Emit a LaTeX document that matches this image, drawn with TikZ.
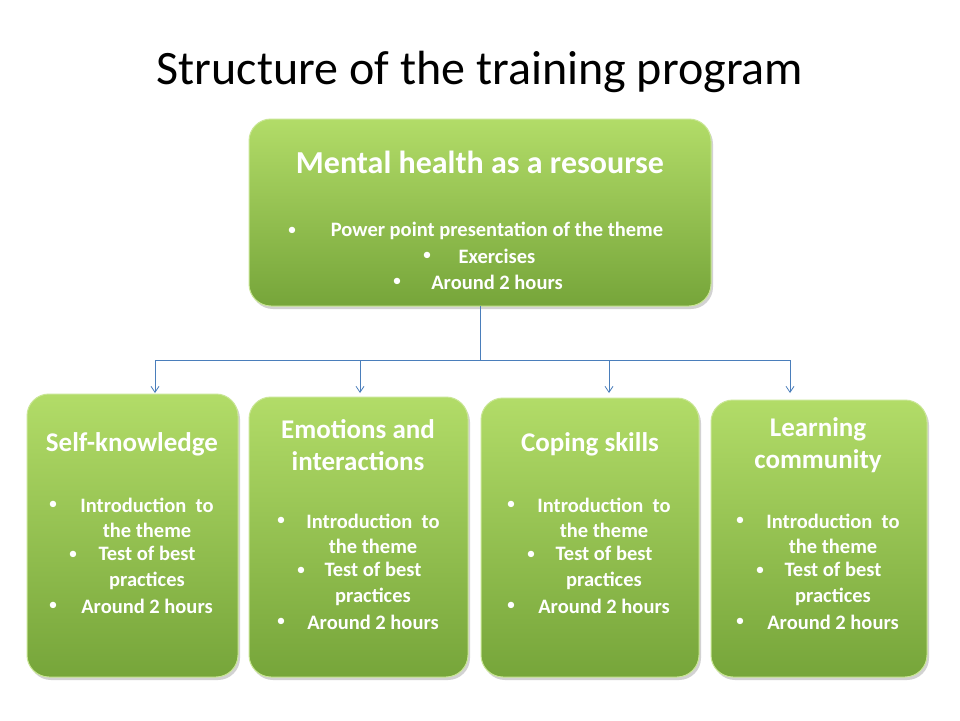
\documentclass[tikz,border=0pt]{standalone}
\usepackage{fontspec}
\setmainfont{Carlito}
\usetikzlibrary{shadows,arrows.meta}
\definecolor{gtop}{HTML}{B2DC68}
\definecolor{gbot}{HTML}{76A53A}
\definecolor{lnk}{HTML}{4A7EBB}
\tikzset{
 gbox/.style={rounded corners=22pt,top color=gtop,bottom color=gbot,draw=gtop!70!white,line width=1pt,drop shadow={shadow xshift=2pt,shadow yshift=-3pt,opacity=0.35}},
 head/.style={text=white,font=\bfseries\fontsize{27}{32}\selectfont,align=center},
 bul/.style={text=white,font=\bfseries\fontsize{20.5}{25.5}\selectfont,align=center},
 dot/.style={text=white,font=\fontsize{18}{18}\selectfont},
 lk/.style={draw=lnk,line width=0.8pt},
 ar/.style={lk,-{Straight Barb[length=6pt,width=8pt]}}
}
\begin{document}
\begin{tikzpicture}[x=1pt,y=-1pt]
\useasboundingbox[fill=white] (0,0) rectangle (960,720);
\node[font=\fontsize{48}{48}\selectfont] (title) at (480,72) {Structure of the training program};
% top
\path[gbox] (249,119) rectangle (711,306);
\node[head,font=\bfseries\fontsize{32}{36}\selectfont] (top) at (480,162) {Mental health as a resourse};
\node[bul] (t1) at (497,231) {Power point presentation of the theme};
\node[bul] (t2) at (497,256) {Exercises};
\node[bul] (t3) at (497,282) {Around 2 hours};
\node[dot] at (292,231) {•};\node[dot] at (427,256) {•};\node[dot] at (397,282) {•};
\coordinate (s) at (480,306);
\coordinate (m) at (480,360);
\coordinate (l) at (155,360);\coordinate (r) at (790,360);
\coordinate (a1) at (155,393);\coordinate (a2) at (360,393);\coordinate (a3) at (609,393);\coordinate (a4) at (790,393);
\draw[lk] (s) -- (m);
\draw[lk] (l) -- (r);
\draw[ar] (l) -- (a1);
\draw[ar] (360,360) -- (a2);
\draw[ar] (609,360) -- (a3);
\draw[ar] (r) -- (a4);
% boxes
\path[gbox] (27,394) rectangle (238,677);
\path[gbox] (249,397) rectangle (468,677);
\path[gbox] (481,398) rectangle (699,677);
\path[gbox] (711,400) rectangle (927,677);
\node[head] (h1) at (132,444) {Self-knowledge};
\node[head] (h2) at (358,445) {Emotions and\\interactions};
\node[head] (h3) at (590,444) {Coping skills};
\node[head] (h4) at (818,445) {Learning\\community};
\foreach \n/\cx/\bx/\y in {1/147/53/505, 2/373/281/521, 3/604/511/505, 4/833/740/521}{
 \node[bul] (i\n) at (\cx,\y+13) {Introduction\ \ to\\the theme};
 \node[bul] (p\n) at (\cx,\y+63) {Test of best\\practices};
 \node[bul] (r\n) at (\cx,\y+101) {Around 2 hours};
 \node[dot] at (\bx,\y) {•};
 \node[dot] at (\bx+20,\y+50) {•};
 \node[dot] at (\bx,\y+101) {•};
}
\end{tikzpicture}
\end{document}
